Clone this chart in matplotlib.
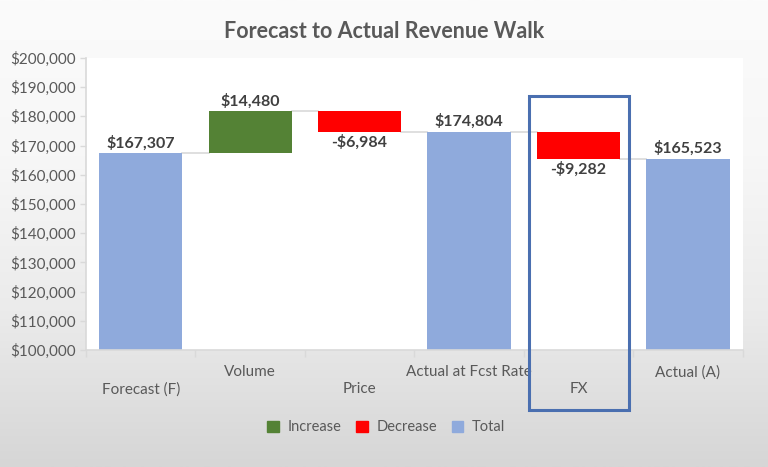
import numpy as np
import matplotlib
matplotlib.use("Agg")
import matplotlib.pyplot as plt
import matplotlib.patches as patches
import matplotlib.transforms as mtransforms

plt.rcParams["font.family"] = ["Lato", "DejaVu Sans"]

# chart data
categories = ["Forecast (F)", "Volume", "Price", "Actual at Fcst Rate", "FX", "Actual (A)"]
values = [167307, 14480, -6984, 174804, -9282, 165523]
kinds = ["total", "increase", "decrease", "total", "decrease", "total"]
highlight = "FX"

colors = {"increase": "#548235", "decrease": "#ff0000", "total": "#8faadc"}
text_col = "#595959"

fig = plt.figure(figsize=(7.68, 4.67), dpi=100)

# grey gradient background
bg = fig.add_axes([0, 0, 1, 1], zorder=-10)
grad = np.linspace(0, 1, 256).reshape(-1, 1)
bg.imshow(grad, aspect="auto", cmap=matplotlib.colors.LinearSegmentedColormap.from_list(
    "bg", ["#d6d6d6", "#ebebeb", "#f7f7f7", "#fbfbfb"]), origin="lower", extent=[0, 1, 0, 1])
bg.axis("off")

ax = fig.add_axes([0.112, 0.2505, 0.855, 0.6255])
ax.set_facecolor("white")

x = np.arange(len(categories))
width = 0.76
level = 0
tops = []
for i, (v, k) in enumerate(zip(values, kinds)):
    if k == "total":
        level = v
        ax.bar(i, v, width, bottom=0, color=colors[k], zorder=2)
        ax.text(i, v + 900, f"${v:,.0f}", ha="center", va="bottom",
                fontsize=11.5, fontweight="bold", color="#404040")
    else:
        start = level
        level = level + v
        ax.bar(i, v, width, bottom=start, color=colors[k], zorder=2)
        if v > 0:
            ax.text(i, level + 900, f"${v:,.0f}", ha="center", va="bottom",
                    fontsize=11.5, fontweight="bold", color="#404040")
        else:
            ax.text(i, level - 900, f"-${-v:,.0f}", ha="center", va="top",
                    fontsize=11.5, fontweight="bold", color="#404040")
    tops.append(level)

# connector lines
for i in range(len(categories) - 1):
    ax.plot([i + width / 2, i + 1 - width / 2], [tops[i], tops[i]],
            color="#d9d9d9", lw=1.2, zorder=1)

ax.set_ylim(100000, 200000)
ax.set_xlim(-0.5, len(categories) - 0.5)
yticks = np.arange(100000, 200001, 10000)
ax.set_yticks(yticks)
ax.set_yticklabels([f"${t:,.0f}" for t in yticks])
ax.tick_params(axis="y", colors="#d9d9d9", labelcolor=text_col, labelsize=11,
               length=4, width=1)

# staggered category labels
labels = [("\n" + c) if i % 2 == 0 else c for i, c in enumerate(categories)]
ax.set_xticks(x)
ax.set_xticklabels(labels, fontsize=11, color=text_col, va="top", linespacing=1.25)
ax.tick_params(axis="x", length=0, pad=11)
ax.set_xticks(np.arange(-0.5, len(categories), 1), minor=True)
ax.tick_params(axis="x", which="minor", length=5, color="#d9d9d9", width=1)

for s in ["top", "right"]:
    ax.spines[s].set_visible(False)
for s in ["left", "bottom"]:
    ax.spines[s].set_color("#d9d9d9")
    ax.spines[s].set_linewidth(1.2)

# highlight box around FX
hi = categories.index(highlight)
trans = mtransforms.blended_transform_factory(ax.transData, ax.transAxes)
ax.add_patch(patches.Rectangle((hi - 0.45, -0.205), 0.91, 1.075, transform=trans,
                               fill=False, edgecolor="#4a6fb0", lw=2.2,
                               clip_on=False, zorder=5))

fig.text(0.5, 0.932, "Forecast to Actual Revenue Walk", ha="center", va="center",
         fontsize=15.5, fontweight="bold", color=text_col)

handles = [patches.Patch(color=colors[k]) for k in ["increase", "decrease", "total"]]
fig.legend(handles, ["Increase", "Decrease", "Total"], loc="center",
           bbox_to_anchor=(0.503, 0.085), ncol=3, frameon=False, fontsize=10.5,
           handlelength=0.8, handleheight=0.8, columnspacing=1.0, handletextpad=0.6,
           labelcolor=text_col)

fig.savefig("out.png", dpi=100)
